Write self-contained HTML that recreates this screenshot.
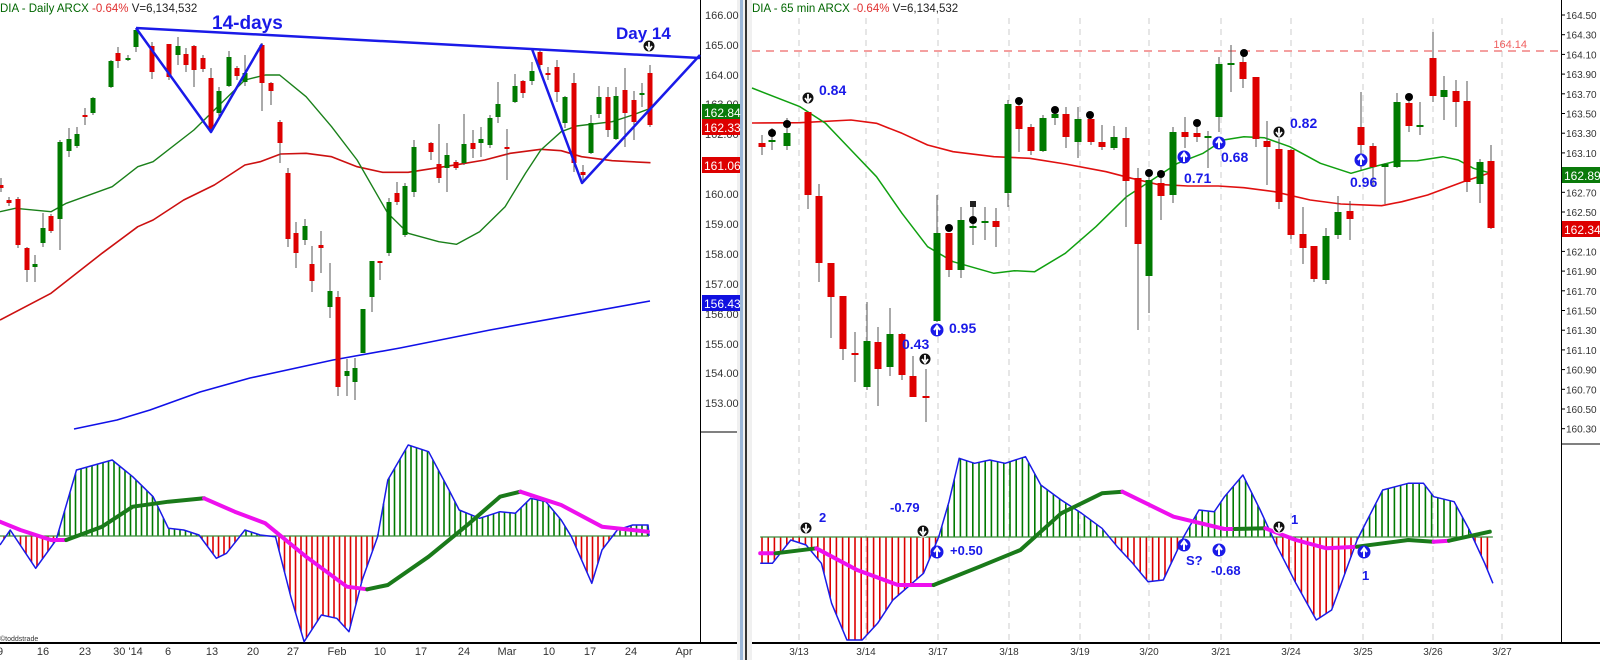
<!DOCTYPE html>
<html><head><meta charset="utf-8">
<style>
html,body{margin:0;padding:0;background:#fff;}
svg{display:block;font-family:"Liberation Sans",sans-serif;}
</style></head>
<body>
<svg id="s" width="1600" height="660" viewBox="0 0 1600 660" xmlns="http://www.w3.org/2000/svg">
<rect width="1600" height="660" fill="#fff"/>
<rect x="737" y="0" width="15" height="660" fill="#f0f0f0"/>
<rect x="740" y="0" width="3" height="660" fill="#9ab6d8"/>
<rect x="745" y="0" width="2" height="660" fill="#333"/>
<line x1="700.5" y1="0" x2="700.5" y2="643" stroke="#000" stroke-width="1"/>
<line x1="1561.5" y1="0" x2="1561.5" y2="643" stroke="#000" stroke-width="1"/>
<line x1="0" y1="643" x2="737" y2="643" stroke="#000" stroke-width="2"/>
<line x1="752" y1="643" x2="1600" y2="643" stroke="#000" stroke-width="2"/>
<line x1="700" y1="432" x2="737" y2="432" stroke="#000"/>
<line x1="1561" y1="444" x2="1600" y2="444" stroke="#000"/>
<g id="g"></g>
</svg>
<script>
var NS="http://www.w3.org/2000/svg",G=document.getElementById('g');
function el(t,a,txt){var e=document.createElementNS(NS,t);for(var k in a)e.setAttribute(k,a[k]);if(txt!==undefined)e.textContent=txt;G.appendChild(e);return e;}
function pl(pts,c,w,extra){var a={points:pts.map(p=>p[0].toFixed(1)+','+p[1].toFixed(1)).join(' '),fill:'none',stroke:c,'stroke-width':w,'stroke-linejoin':'round'};if(extra)for(var k in extra)a[k]=extra[k];return el('polyline',a);}
var RED='#dd0000',GRN='#007a00';
[799,866,938,1009,1080,1149,1221,1291,1363,1433,1502].forEach(x=>el('line',{x1:x,y1:18,x2:x,y2:642,stroke:'#ccc','stroke-dasharray':'6,5'}));
el('line',{x1:752,y1:51,x2:1561,y2:51,stroke:'#f4a0a0','stroke-width':2,'stroke-dasharray':'8,6'});
el('text',{x:1527,y:48,'font-size':11,fill:'#f06060','text-anchor':'end'},'164.14');
[[166,15],[165,45],[164,75],[163,104],[162,134],[160,194],[159,224],[158,254],[157,284],[156,314],[155,344],[154,373],[153,403]].forEach(v=>el('text',{x:705,y:v[1]+4,'font-size':11,fill:'#333'},v[0].toFixed(2)));
for(var i=0;i<=21;i++){var p=164.5-i*0.2;el('text',{x:1566,y:15+i*19.7+4,'font-size':10,fill:'#333'},p.toFixed(2));el('line',{x1:1561,x2:1565,y1:15+i*19.7,y2:15+i*19.7,stroke:'#000'});}
function tag(x,y,w,c,t){el('rect',{x:x,y:y-8,width:w,height:16,fill:c});el('text',{x:x+2,y:y+5,'font-size':12,fill:'#fff'},t);}
tag(702,112,38,'#0a7a0a','162.84');tag(702,127,38,RED,'162.33');tag(702,165,38,RED,'161.06');tag(702,303,38,'#1010e0','156.43');
tag(1562,175,38,'#0a7a0a','162.89');tag(1562,229,38,RED,'162.34');
function hdr(x,parts){var t=el('text',{x:x,y:12,'font-size':11.5});parts.forEach(p=>{var s=document.createElementNS(NS,'tspan');s.setAttribute('fill',p[1]);s.textContent=p[0];t.appendChild(s);});}
hdr(0,[['DIA - Daily  ','#006600'],['ARCX  ','#006600'],['-0.64%  ','#e03030'],['V=6,134,532','#222']]);
hdr(752,[['DIA - 65 min  ','#006600'],['ARCX  ','#006600'],['-0.64%  ','#e03030'],['V=6,134,532','#222']]);
[['9',0],['16',43],['23',85],["30 '14",128],['6',168],['13',212],['20',253],['27',293],['Feb',337],['10',380],['17',421],['24',464],['Mar',507],['10',549],['17',590],['24',631],['Apr',684]].forEach(d=>el('text',{x:d[1],y:655,'font-size':11,fill:'#333','text-anchor':'middle'},d[0]));
['3/13','3/14','3/17','3/18','3/19','3/20','3/21','3/24','3/25','3/26','3/27'].forEach((d,i)=>el('text',{x:[799,866,938,1009,1080,1149,1221,1291,1363,1433,1502][i],y:655,'font-size':10,fill:'#333','text-anchor':'middle'},d));
el('text',{x:0,y:641,'font-size':7,fill:'#333'},'©toddstrade');
function z1(a){return a.map(p=>[p[0]/1.96,p[1]/3]);}
function z2(a){return a.map(p=>[800+p[0]/1.96,p[1]/3]);}
function z3(a){return a.map(p=>[p[0]/0.98,p[1]/3+430]);}
pl([[74,429],[117,420],[150,410],[200,392],[250,378],[333,360],[400,348],[450,338],[490,330],[650,301]],'#1010e8',1.6);
pl(z1([[0,960],[100,880],[200,760],[270,680],[300,660],[360,600],[420,555],[480,495],[510,485],[550,462],[600,460],[650,470],[700,500],[750,517],[800,517],[850,505],[900,493],[950,480],[1000,460],[1060,448],[1100,452],[1140,470],[1200,482],[1275,488]]),'#cc1010',1.6);
pl(z1([[0,635],[30,625],[100,635],[130,610],[220,560],[270,500],[300,485],[380,390],[440,300],[480,240],[520,225],[548,225],[600,290],[650,380],[700,480],[760,640],[800,700],[860,725],[895,733],[940,695],[990,620],[1030,520],[1060,450],[1100,395],[1130,378],[1200,365],[1240,345],[1275,325]]),'#1a801a',1.4);
function candles(list,w){list.forEach(c=>{var col=c[3]=='r'?RED:GRN;el('line',{x1:c[0],x2:c[0],y1:c[4],y2:c[5],stroke:'#555','stroke-width':1});el('rect',{x:c[0]-w/2,y:c[1],width:w,height:Math.max(2,c[2]-c[1]),fill:col});});}
candles([[1,185,188,'r',178,192],[9,200,203,'r',197,206],[18,199,245,'r',197,248],[27,248,270,'r',247,282],[35,264,267,'g',255,282],[43,228,243,'g',213,247],[51,216,231,'r',214,233],[60,142,219,'g',140,250],[69,139,151,'g',128,157],[77,134,146,'g',127,148],[85,115,117,'r',108,125],[93,98,113,'g',97,115],[111,61,87,'g',60,88],[118,53,61,'r',47,68],[128,58,59,'g',55,61],[136,30,47,'g',28,52],[152,46,72,'r',42,79],[169,44,77,'r',44,80],[178,46,55,'g',37,65],[186,54,65,'r',48,72],[194,46,70,'r',45,87],[203,58,69,'r',55,72],[211,78,129,'r',68,132],[219,91,113,'g',87,117],[229,57,86,'g',51,87],[237,68,76,'r',66,80],[245,73,82,'g',55,86],[262,45,83,'r',43,111],[271,83,91,'r',82,105],[280,122,143,'r',120,163],[288,173,239,'r',168,247],[296,233,253,'r',222,268],[305,226,240,'g',219,245],[312,264,281,'r',246,292],[321,245,248,'r',231,273],[330,291,307,'g',263,318],[338,297,387,'r',291,396],[347,371,376,'g',359,396],[355,368,382,'g',358,400],[363,309,353,'g',309,353],[372,261,297,'g',261,312],[380,261,262,'r',261,280],[389,202,253,'g',198,256],[397,193,202,'r',182,205],[405,186,235,'g',183,237],[414,147,192,'g',140,197],[431,143,152,'r',142,160],[439,164,178,'r',124,183],[447,155,168,'g',143,192],[456,162,168,'r',160,170],[464,144,163,'g',114,165],[473,143,149,'r',130,158],[481,139,143,'g',127,157],[490,118,145,'g',115,148],[498,104,117,'g',82,123],[507,147,149,'r',129,180],[515,86,102,'g',74,103],[523,81,93,'r',80,98],[532,71,81,'g',62,85],[540,52,65,'r',49,70],[548,73,75,'r',67,80],[557,67,92,'r',60,102],[565,97,123,'g',96,128],[574,83,163,'r',73,172],[583,172,175,'r',165,180],[591,123,153,'g',115,154],[599,97,114,'g',86,118],[608,97,130,'r',87,137],[616,96,139,'g',87,140],[625,90,113,'r',68,147],[634,100,122,'r',91,140],[642,93,94,'g',83,107],[650,73,125,'r',65,127]],5);
pl([[136,28],[700,58]],'#1a1ae8',2.5);
pl([[136,28],[211,132],[262,44]],'#1a1ae8',2.5);
pl([[532,49],[582,183],[700,55]],'#1a1ae8',2.5);
el('text',{x:212,y:29,'font-size':19,'font-weight':'bold',fill:'#1a1ae8'},'14-days');
el('text',{x:616,y:39,'font-size':17,'font-weight':'bold',fill:'#1a1ae8'},'Day 14');
function dn(x,y){el('circle',{cx:x,cy:y,r:6,fill:'#111',stroke:'#fff','stroke-width':1});el('path',{d:`M${x} ${y-4}V${y+2}M${x-3} ${y}L${x} ${y+4}L${x+3} ${y}`,stroke:'#fff','stroke-width':1.8,fill:'none'});}
function up(x,y){el('circle',{cx:x,cy:y,r:6.5,fill:'#1a1ae8'});el('path',{d:`M${x} ${y+5}V${y-2}M${x-3} ${y}L${x} ${y-4}L${x+3} ${y}`,stroke:'#fff','stroke-width':2,fill:'none'});}
dn(649,46);
pl([[752,123]].concat(z2([[0,368],[100,360],[150,370],[200,400],[250,435],[300,455],[380,470],[450,475],[520,492],[600,515],[650,535],[700,553],[760,558],[820,558],[870,563],[930,575],[1000,600],[1060,612],[1140,617],[1180,605],[1230,585],[1300,545],[1350,520]])),'#e01010',1.6);
pl([[752,88]].concat(z2([[0,320],[50,370],[100,450],[150,530],[200,640],[250,740],[300,785],[380,820],[420,812],[460,815],[520,760],[580,680],[640,590],[690,540],[740,490],[790,460],[830,420],[870,410],[910,413],[960,440],[1020,490],[1080,520],[1130,498],[1170,483],[1210,482],[1260,470],[1290,480],[1320,505],[1355,520]])),'#10a010',1.5);
candles([[762,143,147,'r',135,155],[772,140,141,'g',128,150],[787,133,146,'g',118,150],[808,112,195,'r',112,209],[819,196,263,'r',184,282],[831,263,297,'r',263,338],[843,296,349,'r',296,360],[855,353,354,'r',332,382],[867,341,387,'g',302,390],[878,342,369,'r',327,406],[890,334,367,'g',308,376],[902,334,375,'r',333,380],[913,376,397,'r',356,397],[926,396,398,'r',369,422],[937,233,321,'g',195,322],[949,233,270,'r',233,277],[961,220,270,'g',207,278],[973,226,227,'g',207,245],[985,221,222,'g',207,240],[996,221,227,'r',208,247],[1008,104,193,'g',100,207],[1019,106,129,'r',100,152],[1031,127,151,'r',124,155],[1043,118,151,'g',115,152],[1055,114,118,'g',108,125],[1066,114,137,'r',107,148],[1078,119,142,'g',107,158],[1091,119,142,'r',115,145],[1102,142,147,'r',125,150],[1114,137,148,'g',126,150],[1126,138,181,'r',127,227],[1138,178,244,'r',168,330],[1149,180,276,'g',170,313],[1161,183,196,'r',172,220],[1173,132,195,'g',127,203],[1185,132,137,'r',117,148],[1197,133,137,'r',123,142],[1208,136,138,'g',131,168],[1219,64,117,'g',57,132],[1231,63,65,'g',45,92],[1243,62,79,'r',50,88],[1256,77,139,'r',77,147],[1267,141,147,'r',121,185],[1279,149,202,'r',134,209],[1291,150,235,'r',149,239],[1303,234,248,'r',207,264],[1314,246,279,'r',246,282],[1326,236,280,'g',228,284],[1338,212,235,'g',196,239],[1350,211,219,'r',201,240],[1361,127,145,'r',92,170],[1373,146,167,'r',143,187],[1385,164,167,'g',163,204],[1397,102,167,'g',93,168],[1409,103,126,'r',97,132],[1420,125,127,'g',102,135],[1433,58,96,'r',32,102],[1444,90,97,'g',76,120],[1456,91,102,'r',80,127],[1467,101,182,'r',81,192],[1480,162,184,'g',159,203],[1491,161,228,'r',145,229]],7);
[[1019,101],[1055,110],[1090,115],[1149,173],[1161,174],[1197,123],[1244,53],[1409,97],[949,228],[973,220],[772,133],[787,124]].forEach(d=>el('circle',{cx:d[0],cy:d[1],r:4,fill:'#000'}));
el('rect',{x:970,y:201,width:6,height:6,fill:'#222'});
function lab(x,y,t,s){el('text',{x:x,y:y,'font-size':s||14,'font-weight':'bold',fill:'#1a1ae8'},t);}
dn(808,98);lab(819,95,'0.84');
up(937,330);lab(949,333,'0.95');
lab(902,349,'0.43');dn(925,359);
up(1184,157);lab(1184,183,'0.71');
up(1219,143);lab(1221,162,'0.68');
dn(1279,132);lab(1290,128,'0.82');
up(1361,160);lab(1350,187,'0.96');
function interp(pts,x){for(var i=0;i<pts.length-1;i++){if(x>=pts[i][0]&&x<=pts[i+1][0]){var t=(x-pts[i][0])/((pts[i+1][0]-pts[i][0])||1);return pts[i][1]+t*(pts[i+1][1]-pts[i][1]);}}return null;}
function hist(outline,zero,x0,x1,step){for(var x=x0;x<=x1;x+=step){var y=interp(outline,x);if(y==null)continue;el('line',{x1:x,x2:x,y1:zero,y2:y,stroke:y<zero?GRN:RED,'stroke-width':1.6});}
 el('line',{x1:outline[0][0],x2:outline[outline.length-1][0],y1:zero,y2:zero,stroke:'#3a8a3a','stroke-width':1.2});
 pl(outline,'#1a1ae8',1.5);}
var LO=z3([[0,345],[10,300],[35,415],[55,330],[75,120],[110,90],[130,140],[150,200],[165,295],[180,300],[195,315],[212,385],[222,370],[240,300],[255,315],[270,320],[285,500],[298,635],[315,555],[330,565],[342,605],[355,450],[370,320],[380,150],[400,45],[420,65],[440,180],[450,240],[470,265],[490,245],[505,250],[520,205],[535,215],[550,270],[560,320],[580,460],[590,360],[605,300],[620,285],[635,285],[636,318]]);
hist(LO,536,4,648,5.5);
var RO=z3([[745,400],[757,400],[775,330],[790,345],[805,400],[815,520],[830,630],[845,630],[860,580],[875,510],[890,470],[905,430],[920,320],[930,215],[940,85],[955,100],[970,90],[985,100],[1005,80],[1020,165],[1040,210],[1060,250],[1080,295],[1095,350],[1110,400],[1125,455],[1140,450],[1160,320],[1175,240],[1190,245],[1200,200],[1218,135],[1235,240],[1250,340],[1270,460],[1290,570],[1305,540],[1330,330],[1340,270],[1355,180],[1380,160],[1395,160],[1405,200],[1425,215],[1440,300],[1455,400],[1463,460]]);
hist(RO,537,762,1493,6.2);
var M='#ee10ee',DG='#1a7a1a';
function sig(a,c){pl(z3(a),c,4,{'stroke-linecap':'round'});}
sig([[0,275],[20,300],[50,330],[65,330]],M);
sig([[65,330],[100,290],[130,230],[165,215],[200,205]],DG);
sig([[200,205],[230,245],[260,280],[300,380],[340,470],[360,478]],M);
sig([[360,478],[380,465],[420,380],[460,280],[490,200],[510,185]],DG);
sig([[510,185],[550,225],[590,290],[620,300],[635,305]],M);
sig([[745,370],[760,370]],M);
sig([[760,370],[800,355]],DG);
sig([[800,355],[840,420],[880,465],[915,465]],M);
sig([[915,465],[960,410],[1000,360],[1040,250],[1080,190],[1100,185]],DG);
sig([[1100,185],[1150,260],[1200,297],[1210,297]],M);
sig([[1210,297],[1240,295]],DG);
sig([[1240,295],[1270,330],[1300,355],[1330,350]],M);
sig([[1330,350],[1380,330],[1405,335]],DG);
sig([[1405,335],[1420,332]],M);
sig([[1420,332],[1460,305]],DG);
dn(806,528);lab(819,522,'2',13);
lab(890,512,'-0.79',13);dn(923,531);
up(937,552);lab(950,555,'+0.50',13);
up(1184,545);lab(1186,565,'S?',13);
up(1219,550);lab(1211,575,'-0.68',13);
dn(1279,527);lab(1291,524,'1',13);
up(1364,552);lab(1362,580,'1',13);
</script>
</body></html>
